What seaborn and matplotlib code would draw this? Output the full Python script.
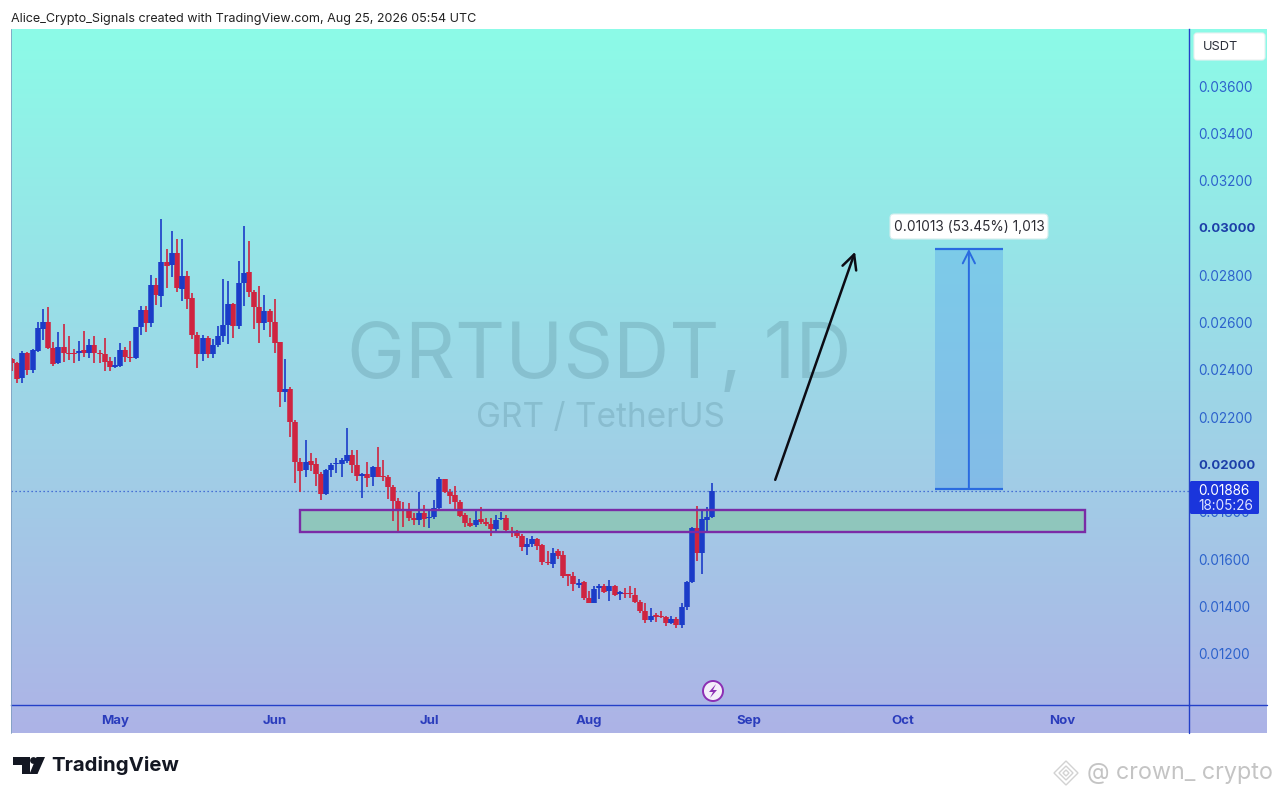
import numpy as np
import pandas as pd
import matplotlib
matplotlib.use("Agg")
import matplotlib.pyplot as plt
from matplotlib.patches import Rectangle, FancyBboxPatch, Polygon, Circle
import seaborn as sns

# prices in exchange ticks (1 tick = 0.00001 USDT), one entry per daily candle
first_day = -20  # days relative to May 1
opens = [2446, 2428, 2364, 2473, 2400, 2481, 2573, 2601, 2491, 2428,
         2498, 2473, 2473, 2470, 2484, 2470, 2507, 2473, 2467, 2438,
         2414, 2417, 2484, 2453, 2449, 2580, 2653, 2600, 2758, 2714,
         2856, 2844, 2893, 2743, 2797, 2703, 2548, 2467, 2534, 2467,
         2505, 2541, 2590, 2679, 2587, 2769, 2814, 2731, 2665, 2597,
         2649, 2601, 2517, 2308, 2317, 2180, 2012, 1977, 2015, 2002,
         1960, 1876, 1977, 2002, 2002, 2016, 2038, 1998, 1953, 1960,
         1945, 1988, 1952, 1946, 1904, 1847, 1808, 1804, 1773, 1766,
         1794, 1773, 1777, 1815, 1937, 1885, 1871, 1843, 1787, 1754,
         1744, 1768, 1756, 1747, 1726, 1768, 1775, 1720, 1716, 1699,
         1649, 1664, 1684, 1659, 1588, 1580, 1632, 1616, 1535, 1530,
         1492, 1501, 1434, 1416, 1478, 1487, 1463, 1488, 1454, 1458,
         1456, 1449, 1418, 1382, 1343, 1365, 1360, 1354, 1329, 1347,
         1322, 1399, 1502, 1730, 1625, 1766, 1777]
closes = [2428, 2360, 2473, 2400, 2484, 2576, 2601, 2491, 2425, 2498,
          2470, 2467, 2467, 2480, 2473, 2505, 2470, 2469, 2435, 2411,
          2419, 2484, 2453, 2448, 2580, 2653, 2600, 2758, 2717, 2856,
          2841, 2893, 2745, 2797, 2700, 2548, 2467, 2534, 2467, 2505,
          2541, 2590, 2679, 2587, 2769, 2811, 2731, 2665, 2597, 2649,
          2601, 2515, 2308, 2317, 2180, 2012, 1974, 2012, 1998, 1959,
          1876, 1977, 1998, 2008, 2019, 2038, 1998, 1953, 1960, 1942,
          1988, 1949, 1949, 1904, 1847, 1804, 1804, 1773, 1766, 1794,
          1771, 1777, 1815, 1937, 1883, 1868, 1840, 1784, 1754, 1740,
          1766, 1756, 1747, 1726, 1766, 1773, 1723, 1716, 1698, 1649,
          1664, 1684, 1656, 1588, 1582, 1625, 1613, 1530, 1530, 1495,
          1498, 1434, 1416, 1473, 1484, 1461, 1488, 1449, 1460, 1453,
          1451, 1418, 1382, 1343, 1360, 1353, 1354, 1329, 1347, 1322,
          1399, 1502, 1730, 1625, 1768, 1777, 1886]
highs = [2449, 2435, 2480, 2477, 2488, 2604, 2656, 2667, 2519, 2562,
         2594, 2545, 2487, 2522, 2566, 2529, 2541, 2484, 2536, 2456,
         2456, 2512, 2495, 2524, 2583, 2670, 2670, 2801, 2790, 3038,
         2911, 2987, 2952, 2952, 2818, 2724, 2562, 2548, 2543, 2531,
         2586, 2783, 2777, 2681, 2862, 3008, 2946, 2738, 2755, 2717,
         2656, 2698, 2519, 2446, 2329, 2188, 2026, 2104, 2050, 2026,
         1970, 1980, 2008, 2026, 2026, 2153, 2059, 2062, 1963, 2012,
         1994, 2073, 2019, 1956, 1914, 1857, 1843, 1836, 1794, 1883,
         1829, 1812, 1850, 1949, 1940, 1895, 1909, 1850, 1794, 1773,
         1811, 1819, 1773, 1773, 1787, 1798, 1787, 1737, 1723, 1706,
         1688, 1699, 1688, 1664, 1635, 1646, 1642, 1632, 1537, 1547,
         1516, 1509, 1467, 1484, 1495, 1495, 1512, 1491, 1463, 1477,
         1488, 1477, 1427, 1416, 1392, 1374, 1382, 1361, 1361, 1353,
         1416, 1509, 1737, 1825, 1805, 1822, 1921]
lows = [2393, 2346, 2343, 2379, 2386, 2477, 2526, 2487, 2417, 2425,
        2435, 2442, 2431, 2439, 2456, 2449, 2428, 2428, 2393, 2393,
        2407, 2414, 2435, 2435, 2446, 2548, 2562, 2583, 2674, 2667,
        2748, 2794, 2728, 2689, 2656, 2529, 2407, 2438, 2449, 2452,
        2498, 2517, 2510, 2534, 2574, 2670, 2707, 2573, 2512, 2569,
        2538, 2470, 2245, 2262, 2115, 1921, 1885, 1945, 1973, 1909,
        1850, 1871, 1945, 1963, 1945, 2005, 1963, 1928, 1860, 1904,
        1909, 1946, 1930, 1853, 1759, 1716, 1735, 1759, 1744, 1744,
        1735, 1730, 1768, 1808, 1878, 1833, 1808, 1777, 1735, 1735,
        1735, 1747, 1740, 1699, 1720, 1766, 1716, 1695, 1688, 1632,
        1618, 1653, 1639, 1575, 1575, 1561, 1599, 1519, 1484, 1466,
        1477, 1425, 1413, 1413, 1430, 1456, 1423, 1442, 1427, 1435,
        1435, 1413, 1374, 1329, 1332, 1336, 1350, 1318, 1326, 1308,
        1308, 1385, 1498, 1590, 1537, 1709, 1773]

month_days = [0, 31, 61, 92, 123, 153, 184]
month_labels = ["May", "Jun", "Jul", "Aug", "Sep", "Oct", "Nov"]
price_ticks = [0.012, 0.014, 0.016, 0.018, 0.020, 0.022, 0.024, 0.026, 0.028, 0.030, 0.032, 0.034, 0.036]
bold_ticks = [0.020, 0.030]

last_price = 0.01886
zone_prices = (0.01715, 0.01808)
zone_days = (35.9, 188.3)
measure_prices = (0.01897, 0.02911)
measure_days = (159.2, 172.4)
sketch_arrow = ((128.2, 0.01935), (143.7, 0.02899))

BLUE = "#1b3cc8"
RED = "#cf2440"

sns.set_theme(style="white")
plt.rcParams["font.family"] = ["Inter", "Roboto", "DejaVu Sans"]

fig = plt.figure(figsize=(12.8, 7.97), dpi=100, facecolor="white")
W, H = 1280, 797


def px_axes(left, top, right, bottom, z):
    return fig.add_axes([left / W, 1 - bottom / H, (right - left) / W, (bottom - top) / H], zorder=z)


# gradient panel and symbol watermark
bg = px_axes(11, 29, 1267, 733, 0)
top_col = np.array([0x8c, 0xfb, 0xe8]) / 255
bot_col = np.array([0xad, 0xb3, 0xe6]) / 255
t = np.linspace(0, 1, 256)[:, None, None]
bg.imshow(top_col[None, None, :] * (1 - t) + bot_col[None, None, :] * t, aspect="auto",
          extent=(11, 1267, 733, 29))
bg.set_axis_off()
bg.text(599, 357, "GRTUSDT, 1D", fontsize=56, color="#4d7f8e", alpha=0.26, ha="center", va="center")
bg.text(600, 418, "GRT / TetherUS", fontsize=24, color="#4d7f8e", alpha=0.26, ha="center", va="center")

# price panel
ax = px_axes(11, 29, 1189, 705, 1)
ax.patch.set_alpha(0)

days = np.arange(first_day, first_day + len(opens))
opens_p = np.array(opens) / 1e5
closes_p = np.array(closes) / 1e5
highs_p = np.array(highs) / 1e5
lows_p = np.array(lows) / 1e5
side = np.where(closes_p >= opens_p, "up", "down")

wicks = pd.DataFrame({"day": np.r_[days, days], "price": np.r_[lows_p, highs_p], "side": np.r_[side, side]})
bodies = pd.DataFrame({"day": np.r_[days, days], "price": np.r_[opens_p, closes_p], "side": np.r_[side, side]})
palette = {"up": BLUE, "down": RED}

ax.add_patch(Rectangle((zone_days[0], zone_prices[0]), zone_days[1] - zone_days[0],
                       zone_prices[1] - zone_prices[0], fc="#8fc6bc", ec="none", zorder=1))

sns.lineplot(data=wicks, x="day", y="price", hue="side", units="day", estimator=None, palette=palette,
             linewidth=1.2, legend=False, ax=ax, solid_capstyle="butt", zorder=3)
sns.lineplot(data=bodies, x="day", y="price", hue="side", units="day", estimator=None, palette=palette,
             linewidth=4.0, legend=False, ax=ax, solid_capstyle="butt", zorder=4)

ax.add_patch(Rectangle((zone_days[0], zone_prices[0]), zone_days[1] - zone_days[0],
                       zone_prices[1] - zone_prices[0], fc="none", ec="#7a2ba6", lw=1.7, zorder=5))

ax.axhline(last_price, color="#2a55d0", lw=0.9, ls=(0, (1, 2.2)), zorder=2)

# long position style measure
ax.add_patch(Rectangle((measure_days[0], measure_prices[0]), measure_days[1] - measure_days[0],
                       measure_prices[1] - measure_prices[0], fc="#4f9fea", alpha=0.36, ec="none", zorder=2))
ax.hlines(measure_prices, measure_days[0], measure_days[1], color="#2a6be0", lw=1.6, zorder=3)
mid_day = sum(measure_days) / 2
ax.annotate("", xy=(mid_day, measure_prices[1]), xytext=(mid_day, measure_prices[0]),
            arrowprops=dict(arrowstyle="->", color="#2a6be0", lw=1.4, mutation_scale=22, shrinkA=0, shrinkB=0),
            zorder=4)
ax.annotate("", xy=sketch_arrow[1], xytext=sketch_arrow[0],
            arrowprops=dict(arrowstyle="->", color="#0c0c14", lw=1.8, mutation_scale=26, shrinkA=0, shrinkB=0),
            zorder=6)

ax.set_xlim((11 - 115) / 5.15, (1189 - 115) / 5.15)
ax.set_ylim(0.00983, 0.03841)
ax.set_xlabel("")
ax.set_ylabel("")
ax.yaxis.tick_right()
ax.set_xticks(month_days)
ax.set_xticklabels(month_labels, fontsize=9.5, fontweight="bold", color="#2a3cbc")
ax.set_yticks(price_ticks)
ax.set_yticklabels(["%.5f" % v for v in price_ticks], fontsize=9.8, color="#2c62cc")
for lab, v in zip(ax.get_yticklabels(), price_ticks):
    if v in bold_ticks:
        lab.set_fontweight("bold")
        lab.set_fontsize(9.5)
        lab.set_color("#1c3fa8")
ax.tick_params(axis="x", length=0, pad=7)
ax.tick_params(axis="y", length=0, pad=7)
for name in ["top", "left"]:
    ax.spines[name].set_visible(False)
ax.spines["right"].set_color("#2440c8")
ax.spines["right"].set_linewidth(1.0)
ax.spines["bottom"].set_color("#2440c8")
ax.spines["bottom"].set_linewidth(1.0)

# everything pinned to the page: labels, tags, logo
deco = fig.add_axes([0, 0, 1, 1], zorder=3)
deco.set_xlim(0, W)
deco.set_ylim(H, 0)
deco.set_axis_off()
deco.patch.set_alpha(0)

deco.text(11, 18.5, "Alice_Crypto_Signals created with TradingView.com, Aug 25, 2026 05:54 UTC",
          fontsize=9.05, color="#222222", va="center")
deco.plot([1189, 1267], [705, 705], color="#2440c8", lw=1.0)
deco.plot([1189, 1189], [705, 733], color="#2440c8", lw=1.0)
deco.plot([11, 11], [29, 733], color="#7f9fc0", lw=0.6)

deco.add_patch(FancyBboxPatch((1194, 33), 71, 27, boxstyle="round,pad=0,rounding_size=3", fc="white", ec="#e8f0f0", lw=0.8))
deco.text(1203, 47, "USDT", fontsize=9.2, color="#2a2e39", va="center")

deco.add_patch(FancyBboxPatch((1190, 481), 69, 33, boxstyle="round,pad=0,rounding_size=1.5", fc="#1a35dc", ec="none"))
deco.text(1198, 491, "0.01886", fontsize=9.8, color="white", va="center")
deco.text(1198, 506, "18:05:26", fontsize=9.8, color="#dfe4ff", va="center")

deco.add_patch(FancyBboxPatch((890, 214), 158, 25, boxstyle="round,pad=0,rounding_size=4", fc="white", ec="#d4eeee", lw=0.8))
deco.text(969, 226.5, "0.01013 (53.45%) 1,013", fontsize=9.9, color="#2c2c34", ha="center", va="center")

# bolt badge under the last candle
deco.add_patch(Circle((713, 691), 10, fc="#f4eefa", ec="#8c2fb4", lw=1.4))
deco.add_patch(Polygon([(716, 684), (709, 692), (713, 692), (710, 698), (717, 690), (713, 690)], fc="#8c2fb4", ec="none"))

# TradingView logo
deco.add_patch(Polygon([(13, 757), (30, 757), (30, 774), (22, 774), (22, 765), (13, 765)], fc="#131722", ec="none"))
deco.add_patch(Circle((33.5, 760.5), 3.4, fc="#131722", ec="none"))
deco.add_patch(Polygon([(37.5, 774), (29.5, 774), (36.5, 757), (45, 757)], fc="#131722", ec="none"))
deco.text(51, 765.5, "TradingView", fontsize=14.7, fontweight="bold", color="#131722", va="center")

# footer watermark
for r, lw in [(12, 1.0), (7, 1.0), (3, 1.0)]:
    deco.add_patch(Polygon([(1066 - r, 773), (1066, 773 - r), (1066 + r, 773), (1066, 773 + r)], fc="none", ec="#d2d2d2", lw=lw))
deco.text(1087, 773, "@ crown_ crypto", fontsize=16.8, color="#c4c4c4", va="center")

plt.savefig("out.png", dpi=100, facecolor="white")
